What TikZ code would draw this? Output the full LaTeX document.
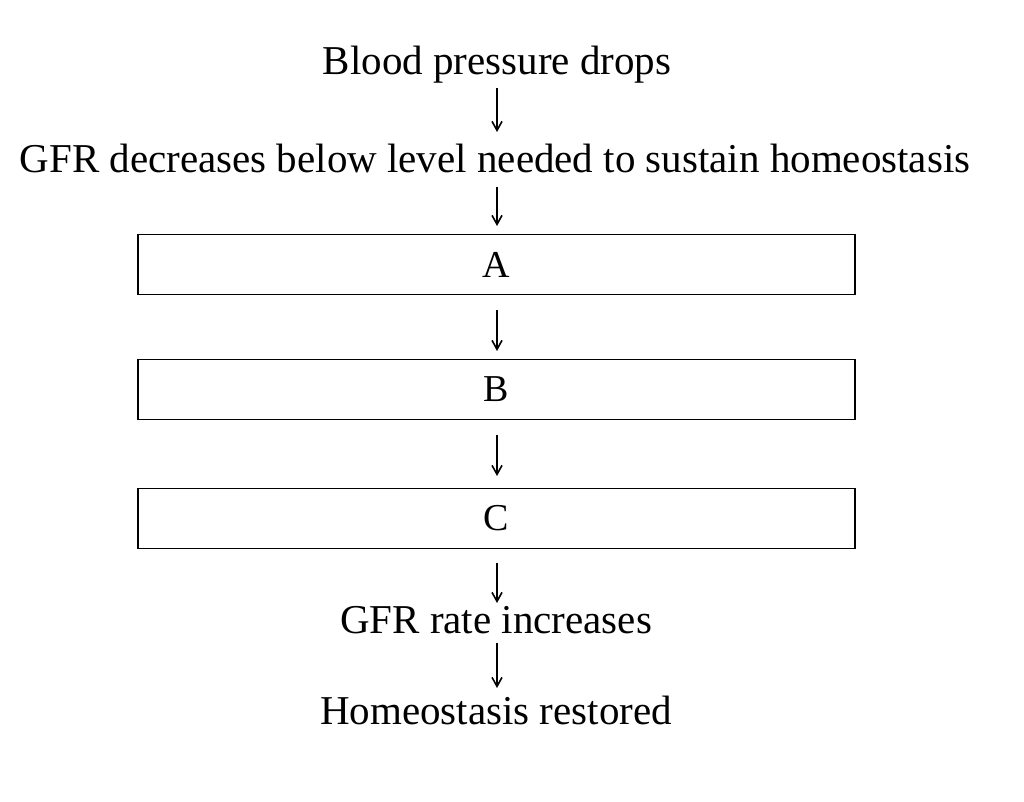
\documentclass[tikz,border=0pt]{standalone}
\usepackage{fontspec}
\setmainfont{Liberation Serif}
\usetikzlibrary{arrows.meta}
\begin{document}
\begin{tikzpicture}[x=1pt,y=-1pt,
  txt/.style={font=\fontsize{41}{46}\selectfont, inner sep=0pt},
  box/.style={draw, line width=1.6pt, minimum width=717pt, minimum height=60pt, font=\fontsize{38}{44}\selectfont, inner sep=0pt},
  arr/.style={-{Straight Barb[length=9pt,width=10pt]}, line width=1.6pt}]
\useasboundingbox (0,0) rectangle (1024,801);
\node[txt] (t1) at (497,65) {Blood pressure drops};
\node[txt] (t2) at (495,158) {GFR decreases below level needed to sustain homeostasis};
\node[box] (a) at (496.5,264.5) {A};
\node[box] (b) at (496.5,389.5) {B};
\node[box] (c) at (496.5,518.5) {C};
\node[txt] (t3) at (496,620) {GFR rate increases};
\node[txt] (t4) at (496,710) {Homeostasis restored};
\coordinate (p1) at (497,88); \coordinate (q1) at (497,132);
\draw[arr] (p1) -- (q1);
\coordinate (p2) at (497,187); \coordinate (q2) at (497,226);
\draw[arr] (p2) -- (q2);
\coordinate (p3) at (497,310); \coordinate (q3) at (497,351);
\draw[arr] (p3) -- (q3);
\coordinate (p4) at (497,435); \coordinate (q4) at (497,476);
\draw[arr] (p4) -- (q4);
\coordinate (p5) at (497,563); \coordinate (q5) at (497,603);
\draw[arr] (p5) -- (q5);
\coordinate (p6) at (497,643); \coordinate (q6) at (497,688);
\draw[arr] (p6) -- (q6);
\end{tikzpicture}
\end{document}
